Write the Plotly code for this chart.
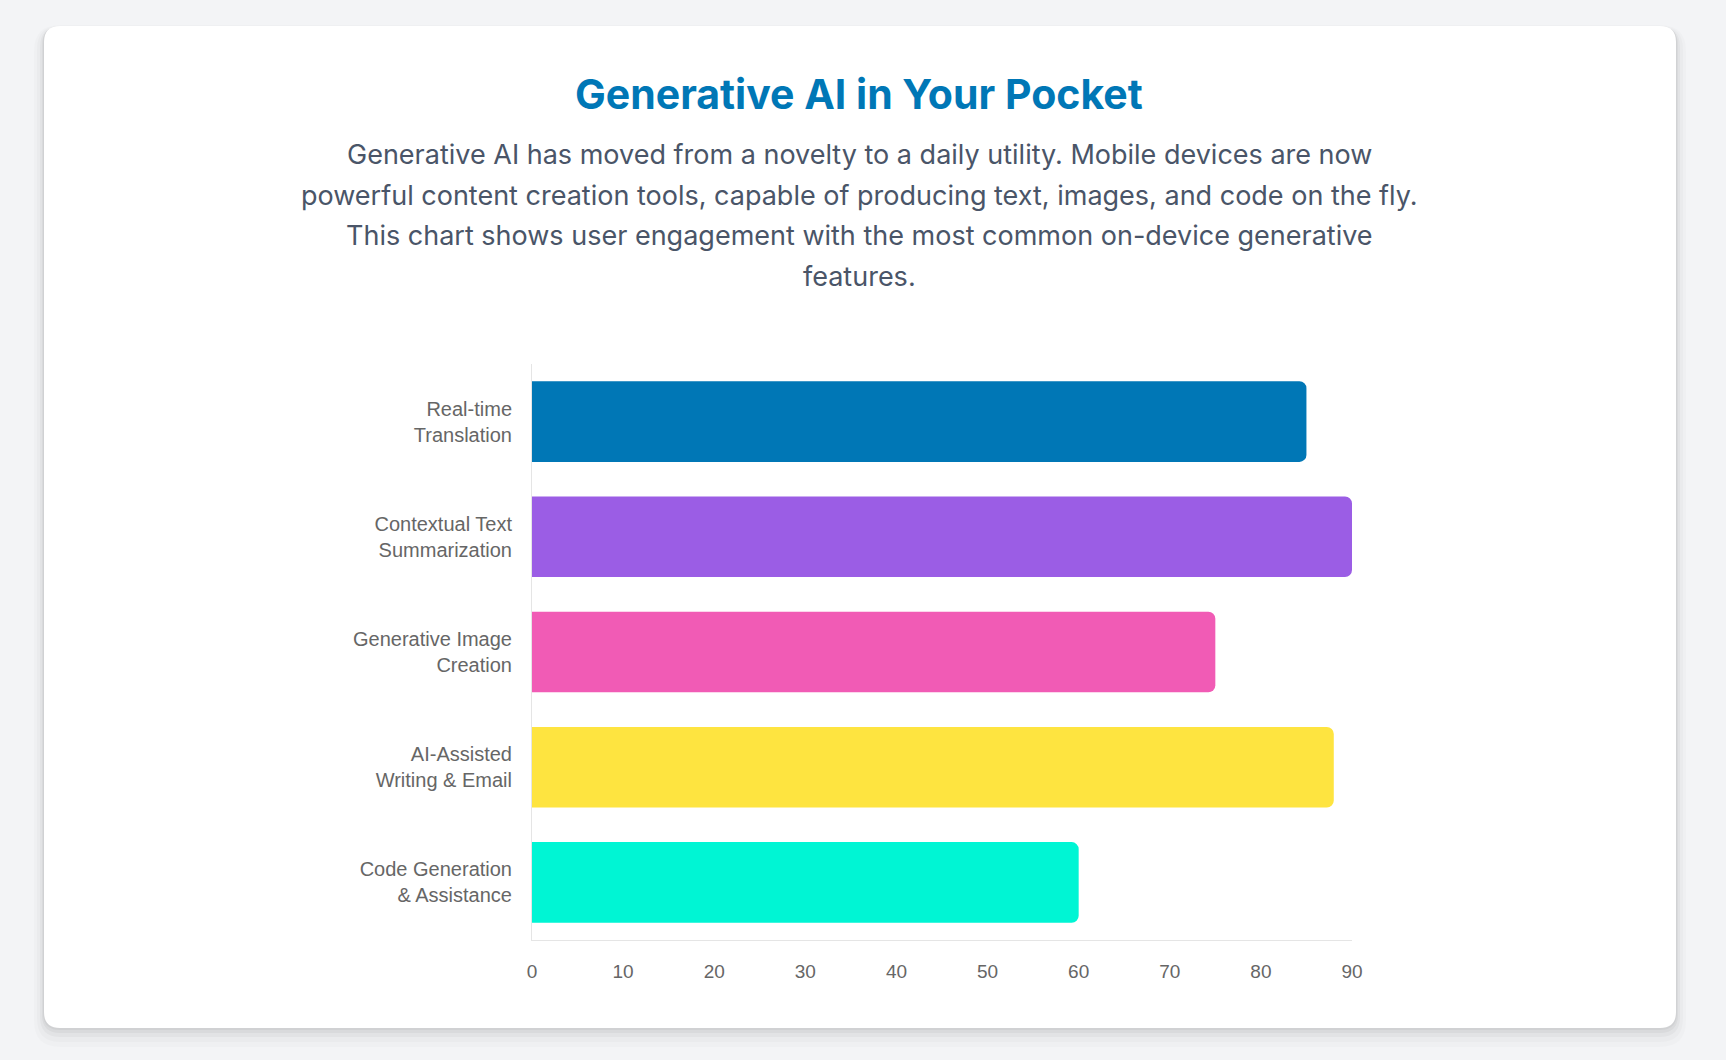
import plotly.graph_objects as go

# ---- data ----
features = [
    "Real-time<br>Translation",
    "Contextual Text<br>Summarization",
    "Generative Image<br>Creation",
    "AI-Assisted<br>Writing & Email",
    "Code Generation<br>& Assistance",
]
engagement = [85, 90, 75, 88, 60]
bar_colors = ["#0077B6", "#9B5DE5", "#F15BB5", "#FEE440", "#00F5D4"]
x_ticks = [0, 10, 20, 30, 40, 50, 60, 70, 80, 90]

title_text = "Generative AI in Your Pocket"
subtitle_lines = [
    "Generative AI has moved from a novelty to a daily utility. Mobile devices are now",
    "powerful content creation tools, capable of producing text, images, and code on the fly.",
    "This chart shows user engagement with the most common on-device generative",
    "features.",
]

# ---- layout geometry (pixels) ----
W, H = 1726, 1060
L, R, T, B = 532, 1352, 364, 940
PW, PH = R - L, B - T


def to_paper(px, py):
    return (px - L) / PW, (B - py) / PH


def rrect_path(x0, y0, x1, y1, r):
    pts = []
    def P(cmd, *coords):
        s = cmd
        for i in range(0, len(coords), 2):
            xx, yy = to_paper(coords[i], coords[i + 1])
            s += f" {xx:.6f},{yy:.6f}"
        pts.append(s)
    P("M", x0 + r, y0)
    P("L", x1 - r, y0)
    P("Q", x1, y0, x1, y0 + r)
    P("L", x1, y1 - r)
    P("Q", x1, y1, x1 - r, y1)
    P("L", x0 + r, y1)
    P("Q", x0, y1, x0, y1 - r)
    P("L", x0, y0 + r)
    P("Q", x0, y0, x0 + r, y0)
    return " ".join(pts) + " Z"


shapes = []
# soft shadow
for grow, dy, op in [(10, 9, 0.015), (7, 7, 0.02), (4, 5, 0.03), (2, 3, 0.04), (1, 1, 0.04)]:
    shapes.append(dict(type="path", xref="paper", yref="paper", layer="below",
                       path=rrect_path(44 - grow, 26 - grow + dy, 1676 + grow, 1028 + grow + dy, 16 + grow),
                       fillcolor=f"rgba(0,0,0,{op})", line=dict(width=0)))
# card
shapes.append(dict(type="path", xref="paper", yref="paper", layer="below",
                   path=rrect_path(44, 26, 1676, 1028, 16),
                   fillcolor="#ffffff", line=dict(width=0)))

fig = go.Figure()
fig.add_trace(go.Bar(
    x=engagement, y=features, orientation="h",
    marker=dict(color=bar_colors, cornerradius=7, line=dict(width=0)),
    hoverinfo="x+y",
))

annotations = []
cx, _ = to_paper(859, 0)
_, ty = to_paper(0, 94)
annotations.append(dict(text=f"<b>{title_text}</b>", x=cx, y=ty, xref="paper", yref="paper",
                        xanchor="center", yanchor="middle", showarrow=False,
                        font=dict(family="Inter", size=41, color="#0077B6")))
for i, line in enumerate(subtitle_lines):
    _, sy = to_paper(0, 155 + i * 40.5)
    annotations.append(dict(text=line, x=cx, y=sy, xref="paper", yref="paper",
                            xanchor="center", yanchor="middle", showarrow=False,
                            font=dict(family="Inter", size=27, color="#4A5568")))

fig.update_layout(
    width=W, height=H,
    margin=dict(l=L, r=W - R, t=T, b=H - B, pad=0),
    paper_bgcolor="#F3F4F6",
    plot_bgcolor="rgba(0,0,0,0)",
    showlegend=False,
    bargap=0.3,
    shapes=shapes,
    annotations=annotations,
    xaxis=dict(range=[0, 90], tickvals=x_ticks, showgrid=False, zeroline=False,
               showline=True, linecolor="#E5E5E5", linewidth=1, ticks="",
               ticklabelstandoff=14,
               tickfont=dict(family="Liberation Sans", size=19, color="#666666")),
    yaxis=dict(autorange="reversed", showgrid=False, zeroline=False,
               showline=True, linecolor="#E5E5E5", linewidth=1, ticks="",
               ticklabelstandoff=15,
               tickfont=dict(family="Liberation Sans", size=20, color="#666666")),
)

fig.write_html("out.html")
